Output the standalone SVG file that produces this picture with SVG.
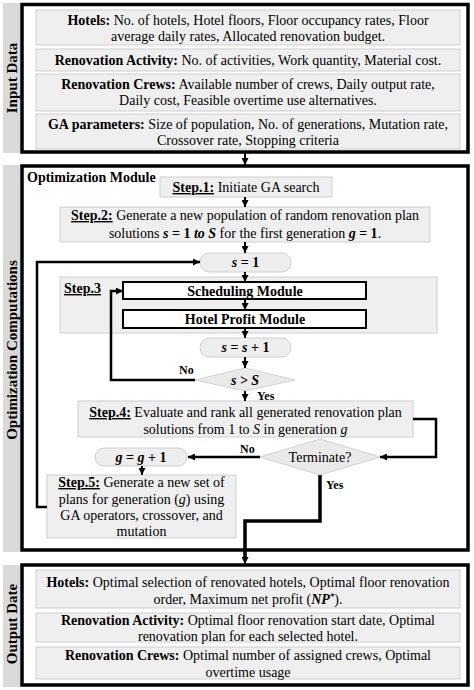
<svg xmlns="http://www.w3.org/2000/svg" width="474" height="690" viewBox="0 0 474 690">
<defs>
<style>
text{font-family:"Liberation Serif","Times New Roman",serif;font-size:14px;fill:#000}
.c{text-anchor:middle}
.b{font-weight:bold}
.m{font-weight:bold;font-style:italic}
.u{text-decoration:underline}
.strip{fill:#d9d9d9}
.outer{fill:#fff;stroke:#000;stroke-width:3.5}
.box{fill:#efefef;stroke:#cfcfcf;stroke-width:1}
.mod{fill:#fff;stroke:#000;stroke-width:2}
.pill{fill:#eeeeee;stroke:#cfcfcf;stroke-width:1}
.dia{fill:#eaeaea;stroke:#d3d3d3;stroke-width:1}
.side{font-size:15px;font-weight:bold;text-anchor:middle}
.lab{font-size:12px;font-weight:bold}
.ln{fill:none;stroke:#000;stroke-width:2}
.lt{fill:none;stroke:#000;stroke-width:2.5}
.lk{fill:none;stroke:#000;stroke-width:3.5}
</style>
<marker id="ah" viewBox="0 0 10 10" refX="10" refY="5" markerWidth="7" markerHeight="7" orient="auto" markerUnits="userSpaceOnUse"><path d="M0,0 L10,5 L0,10 z" fill="#000"/></marker>
</defs>

<g id="input-data">
<rect class="strip" x="3" y="3" width="17" height="150"/>
<text class="side" transform="translate(17,78) rotate(-90)">Input Data</text>
<rect class="outer" x="22" y="4.5" width="446" height="147.5"/>
<rect class="box" x="36" y="10" width="424" height="35"/>
<text class="c" x="248" y="25"><tspan class="b">Hotels:</tspan> No. of hotels, Hotel floors, Floor occupancy rates, Floor</text>
<text class="c" x="248" y="41">average daily rates, Allocated renovation budget.</text>
<rect class="box" x="36" y="49" width="424" height="22"/>
<text class="c" x="248" y="65"><tspan class="b">Renovation Activity:</tspan> No. of activities, Work quantity, Material cost.</text>
<rect class="box" x="36" y="74" width="424" height="37"/>
<text class="c" x="248" y="89"><tspan class="b">Renovation Crews:</tspan> Available number of crews, Daily output rate,</text>
<text class="c" x="248" y="105">Daily cost, Feasible overtime use alternatives.</text>
<rect class="box" x="36" y="114" width="424" height="35"/>
<text class="c" x="248" y="129"><tspan class="b">GA parameters:</tspan> Size of population, No. of generations, Mutation rate,</text>
<text class="c" x="248" y="145">Crossover rate, Stopping criteria</text>
</g>

<g id="optimization">
<rect class="strip" x="3" y="165" width="17" height="387"/>
<text class="side" transform="translate(17,350) rotate(-90)">Optimization Computations</text>
<rect class="outer" x="22" y="166" width="446" height="384"/>
<text class="b" x="27" y="182">Optimization Module</text>
</g>

<g id="step1">
<rect class="box" x="160" y="177" width="172" height="20"/>
<text class="c" x="246" y="192"><tspan class="b u">Step.1:</tspan> Initiate GA search</text>
</g>

<g id="step2">
<rect class="box" x="60" y="207" width="370" height="35"/>
<text class="c" x="245" y="220"><tspan class="b u">Step.2:</tspan> Generate a new population of random renovation plan</text>
<text class="c" x="245" y="238">solutions <tspan class="m">s</tspan> <tspan class="b">= 1</tspan> <tspan class="m">to S</tspan> for the first generation <tspan class="m">g</tspan> <tspan class="b">= 1</tspan>.</text>
</g>

<g id="s-init">
<rect class="pill" x="200" y="253" width="91" height="19" rx="9.5"/>
<text class="c" x="245.5" y="267"><tspan class="m">s</tspan><tspan class="b"> = 1</tspan></text>
</g>

<g id="step3">
<rect class="box" x="60" y="277" width="377" height="56"/>
<text class="b u" x="64" y="293">Step.3</text>
</g>

<g id="scheduling-module">
<rect class="mod" x="123" y="282" width="243" height="17"/>
<text class="c b" x="245" y="296">Scheduling Module</text>
</g>

<g id="hotel-profit-module">
<rect class="mod" x="123" y="310" width="243" height="18"/>
<text class="c b" x="245" y="324">Hotel Profit Module</text>
</g>

<g id="s-inc">
<rect class="pill" x="200" y="338" width="91" height="19" rx="9.5"/>
<text class="c" x="245.5" y="352"><tspan class="m">s</tspan><tspan class="b"> = </tspan><tspan class="m">s</tspan><tspan class="b"> + 1</tspan></text>
</g>

<g id="s-check">
<polygon class="dia" points="245,368 295,380 245,391 195,380"/>
<text class="c" x="245" y="385"><tspan class="m">s &gt; S</tspan></text>
</g>

<g id="step4">
<rect class="box" x="78" y="401" width="335" height="36"/>
<text class="c" x="245.5" y="417"><tspan class="b u">Step.4:</tspan> Evaluate and rank all generated renovation plan</text>
<text class="c" x="245.5" y="434">solutions from 1 to <tspan font-style="italic">S</tspan> in generation <tspan font-style="italic">g</tspan></text>
</g>

<g id="terminate">
<polygon class="dia" points="320,439 380,457 320,475 260,457"/>
<text class="c" x="320" y="462">Terminate?</text>
</g>

<g id="g-inc">
<rect class="pill" x="95" y="448" width="92" height="18" rx="9"/>
<text class="c" x="141" y="462"><tspan class="m">g</tspan><tspan class="b"> = </tspan><tspan class="m">g</tspan><tspan class="b"> + 1</tspan></text>
</g>

<g id="step5">
<rect class="box" x="47" y="475" width="189" height="63"/>
<text class="c" x="141.5" y="487"><tspan class="b u">Step.5:</tspan> Generate a new set of</text>
<text class="c" x="141.5" y="504">plans for generation (<tspan font-style="italic">g</tspan>) using</text>
<text class="c" x="141.5" y="520">GA operators, crossover, and</text>
<text class="c" x="141.5" y="536">mutation</text>
</g>

<g id="output-data">
<rect class="strip" x="3" y="565" width="17" height="122"/>
<text class="side" transform="translate(17,624) rotate(-90)">Output Date</text>
<rect class="outer" x="22" y="565" width="446" height="120"/>
<rect class="box" x="36" y="570" width="424" height="38"/>
<text class="c" x="248" y="587"><tspan class="b">Hotels:</tspan> Optimal selection of renovated hotels, Optimal floor renovation</text>
<text class="c" x="248" y="604">order, Maximum net profit (<tspan class="m">NP</tspan><tspan class="m" font-size="9" dy="-5">*</tspan><tspan dy="5">).</tspan></text>
<rect class="box" x="36" y="613" width="424" height="29"/>
<text class="c" x="248" y="625"><tspan class="b">Renovation Activity:</tspan> Optimal floor renovation start date, Optimal</text>
<text class="c" x="248" y="641">renovation plan for each selected hotel.</text>
<rect class="box" x="36" y="647" width="424" height="32"/>
<text class="c" x="248" y="660"><tspan class="b">Renovation Crews:</tspan> Optimal number of assigned crews, Optimal</text>
<text class="c" x="248" y="677">overtime usage</text>
</g>

<g id="connectors">
<line class="ln" x1="245" y1="152" x2="245" y2="165" marker-end="url(#ah)"/>
<line class="ln" x1="245" y1="197" x2="245" y2="207" marker-end="url(#ah)"/>
<line class="ln" x1="245" y1="242" x2="245" y2="253" marker-end="url(#ah)"/>
<line class="ln" x1="245" y1="272" x2="245" y2="282" marker-end="url(#ah)"/>
<line class="ln" x1="245" y1="299" x2="245" y2="310" marker-end="url(#ah)"/>
<line class="ln" x1="245" y1="328" x2="245" y2="338" marker-end="url(#ah)"/>
<line class="ln" x1="245" y1="357" x2="245" y2="368" marker-end="url(#ah)"/>
<line class="ln" x1="245" y1="391" x2="245" y2="401" marker-end="url(#ah)"/>
<polyline class="lt" points="195,380 111,380 111,291 123,291" marker-end="url(#ah)"/>
<text class="lab" x="179" y="374">No</text>
<text class="lab" x="257" y="400">Yes</text>
<polyline class="lt" points="413,419 436,419 436,457 380,457" marker-end="url(#ah)"/>
<line class="lt" x1="260" y1="457" x2="188" y2="457" marker-end="url(#ah)"/>
<text class="lab" x="240" y="453">No</text>
<line class="ln" x1="142" y1="466" x2="142" y2="475" marker-end="url(#ah)"/>
<polyline class="lt" points="47,507 37,507 37,262 200,262" marker-end="url(#ah)"/>
<text class="lab" x="326" y="489">Yes</text>
<polyline class="lk" points="320,475 320,521 245,521 245,557"/>
<line class="ln" x1="245" y1="555" x2="245" y2="564" marker-end="url(#ah)"/>
</g>
</svg>
